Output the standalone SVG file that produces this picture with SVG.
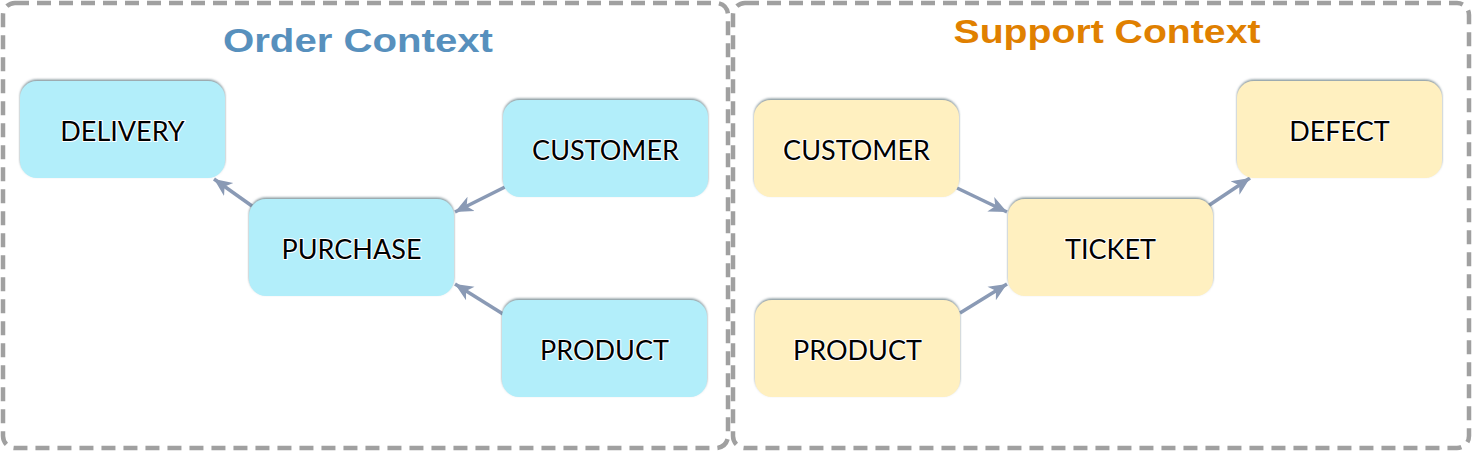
<svg xmlns="http://www.w3.org/2000/svg" width="1473" height="452" viewBox="0 0 1473 452">
<style>
.ctx{fill:none;stroke:#a0a0a0;stroke-width:4.5;stroke-dasharray:14 8}
.title{font-family:"Liberation Sans",Arial,sans-serif;font-weight:bold;font-size:33px;text-anchor:middle}
.nodeA{fill:#b2eefa;filter:url(#sh)}
.nodeB{fill:#fff0c0;filter:url(#sh)}
.lbl{font-family:Lato,"Noto Sans",sans-serif;font-weight:400;font-size:27px;fill:#000;text-anchor:middle;stroke:#fff;stroke-width:2;paint-order:stroke;stroke-linejoin:round}
.edge{stroke:#8a9ab5;stroke-width:3.5;fill:none;marker-end:url(#arr)}
</style>
<defs>
<filter id="sh" x="-10%" y="-10%" width="120%" height="120%">
<feDropShadow dx="0" dy="-1.5" stdDeviation="1.2" flood-color="#5a7078" flood-opacity="0.75"/>
</filter>
<marker id="arr" markerUnits="userSpaceOnUse" markerWidth="20" markerHeight="18" refX="18" refY="9" orient="auto">
<path d="M0,1 L18,9 L0,17 L5,9 z" fill="#8a9ab5"/>
</marker>
</defs>
<g id="order-context">
<rect class="ctx" x="3" y="3" width="725" height="445" rx="12"/>
<text class="title" x="358" y="52" fill="#5790bd" textLength="270" lengthAdjust="spacingAndGlyphs">Order Context</text>
</g>
<g id="support-context">
<rect class="ctx" x="733" y="3" width="736" height="445" rx="12"/>
<text class="title" x="1107" y="43" fill="#e08000" textLength="307" lengthAdjust="spacingAndGlyphs">Support Context</text>
</g>
<g id="connectors">
<line class="edge" x1="252" y1="206" x2="214" y2="179"/>
<line class="edge" x1="505" y1="187" x2="455" y2="212"/>
<line class="edge" x1="503" y1="314" x2="455" y2="284"/>
<line class="edge" x1="957" y1="188" x2="1007" y2="212"/>
<line class="edge" x1="960" y1="313" x2="1007" y2="284"/>
<line class="edge" x1="1208" y1="206" x2="1250" y2="178"/>
</g>
<g id="order-delivery"><rect class="nodeA" x="20" y="81" width="205" height="97" rx="17"/><text class="lbl" x="122.5" y="141">DELIVERY</text></g>
<g id="order-customer"><rect class="nodeA" x="503" y="100" width="205" height="97" rx="17"/><text class="lbl" x="605.5" y="160">CUSTOMER</text></g>
<g id="order-purchase"><rect class="nodeA" x="249" y="199" width="205" height="97" rx="17"/><text class="lbl" x="351.5" y="259">PURCHASE</text></g>
<g id="order-product"><rect class="nodeA" x="502" y="300" width="205" height="97" rx="17"/><text class="lbl" x="604.5" y="360">PRODUCT</text></g>
<g id="support-customer"><rect class="nodeB" x="754" y="100" width="205" height="97" rx="17"/><text class="lbl" x="856.5" y="160">CUSTOMER</text></g>
<g id="support-defect"><rect class="nodeB" x="1237" y="81" width="205" height="97" rx="17"/><text class="lbl" x="1339.5" y="141">DEFECT</text></g>
<g id="support-ticket"><rect class="nodeB" x="1008" y="199" width="205" height="97" rx="17"/><text class="lbl" x="1110.5" y="259">TICKET</text></g>
<g id="support-product"><rect class="nodeB" x="755" y="300" width="205" height="97" rx="17"/><text class="lbl" x="857.5" y="360">PRODUCT</text></g>
</svg>
